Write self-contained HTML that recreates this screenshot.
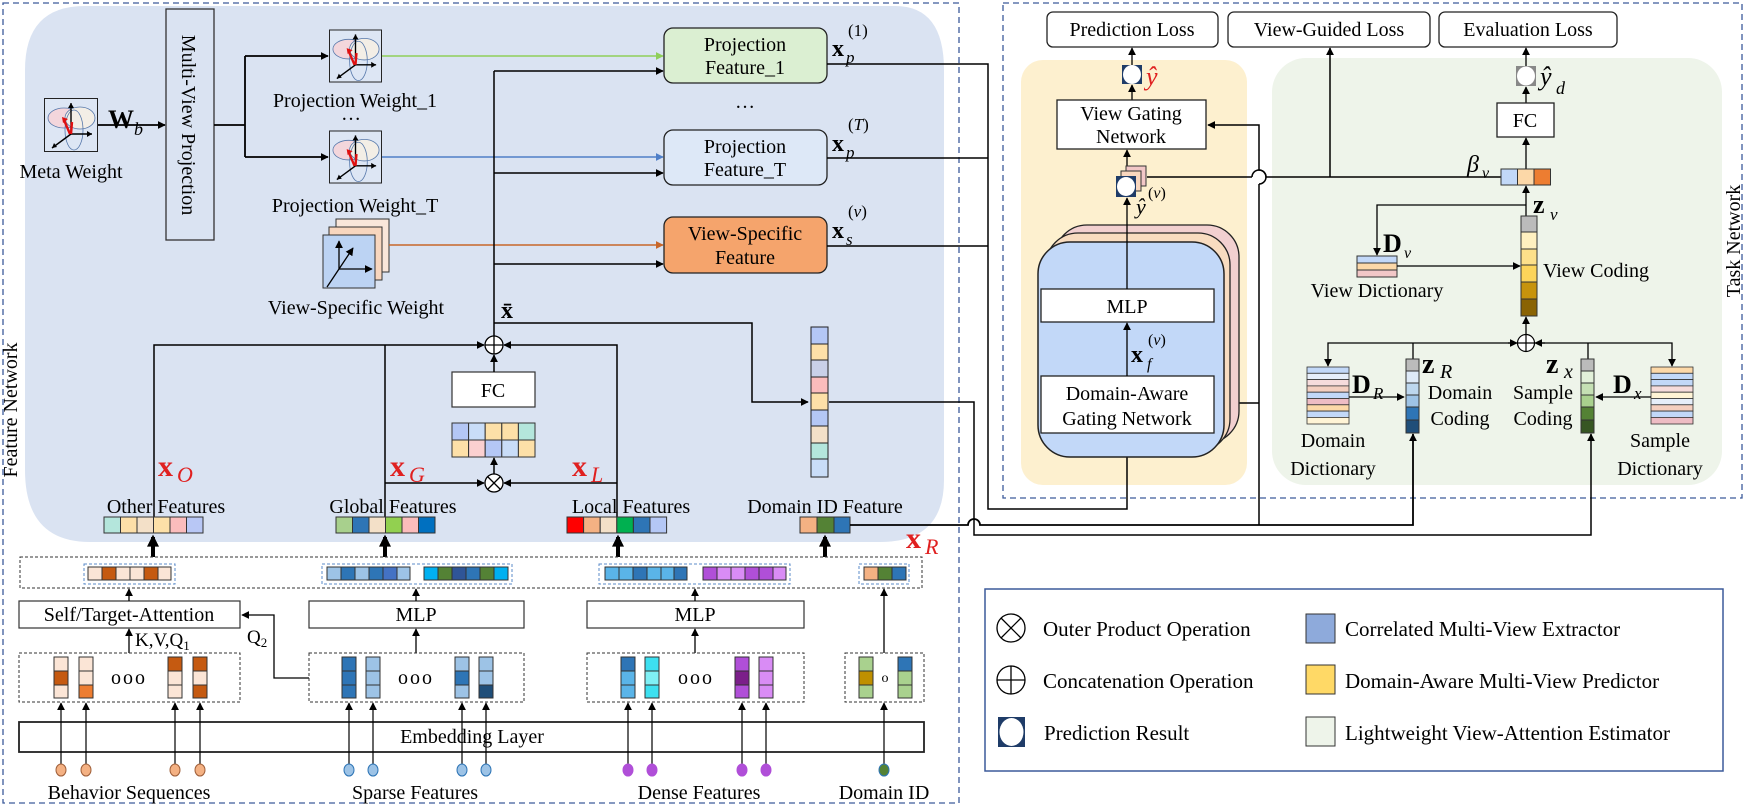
<!DOCTYPE html>
<html><head><meta charset="utf-8"><style>
html,body{margin:0;padding:0;background:#fff}
svg{display:block}
text{font-family:"Liberation Serif",serif;fill:#000}
.l{font-size:20px}
.m{font-size:22px}
.b{font-weight:bold}
.i{font-style:italic}
</style></head><body>
<svg width="1746" height="808" viewBox="0 0 1746 808" xmlns="http://www.w3.org/2000/svg">
<defs>
<marker id="a" viewBox="0 0 10 10" refX="9" refY="5" markerWidth="8" markerHeight="8" orient="auto-start-reverse" markerUnits="userSpaceOnUse"><path d="M0,0 L10,5 L0,10 z" fill="#000"/></marker>
<marker id="ag" viewBox="0 0 10 10" refX="9" refY="5" markerWidth="8" markerHeight="8" orient="auto" markerUnits="userSpaceOnUse"><path d="M0,0 L10,5 L0,10 z" fill="#8fcf5a"/></marker>
<marker id="ab" viewBox="0 0 10 10" refX="9" refY="5" markerWidth="8" markerHeight="8" orient="auto" markerUnits="userSpaceOnUse"><path d="M0,0 L10,5 L0,10 z" fill="#4f7fc8"/></marker>
<marker id="ao" viewBox="0 0 10 10" refX="9" refY="5" markerWidth="8" markerHeight="8" orient="auto" markerUnits="userSpaceOnUse"><path d="M0,0 L10,5 L0,10 z" fill="#c8672a"/></marker>
<marker id="at" viewBox="0 0 10 10" refX="8" refY="5" markerWidth="16" markerHeight="12" orient="auto" markerUnits="userSpaceOnUse"><path d="M0,0 L10,5 L0,10 z" fill="#000"/></marker>
<symbol id="wi" viewBox="0 0 54 54">
<rect x="0.5" y="0.5" width="53" height="53" fill="#dde6f4" stroke="#222"/>
<ellipse cx="20" cy="20" rx="16" ry="10" fill="#f3d6dc" stroke="#5577aa" stroke-width="0.8"/>
<ellipse cx="36" cy="20" rx="15" ry="11" fill="#f3eee6" stroke="#5577aa" stroke-width="0.8"/>
<ellipse cx="30" cy="32" rx="9" ry="20" fill="none" stroke="#5577aa" stroke-width="0.8"/>
<line x1="27" y1="36" x2="27" y2="5" stroke="#000" stroke-width="1.4"/>
<line x1="27" y1="36" x2="48" y2="36" stroke="#000" stroke-width="1.4"/>
<line x1="27" y1="36" x2="8" y2="50" stroke="#000" stroke-width="1.4"/>
<path d="M27,5 l-3,5 h6z M48,36 l-5,-3 v6z M8,50 l2,-5 l3,4z" fill="#000"/>
<line x1="26" y1="36" x2="20" y2="22" stroke="#e01010" stroke-width="2.4"/>
<line x1="27" y1="36" x2="28" y2="24" stroke="#e01010" stroke-width="2.4"/>
<path d="M18,19 l6,2 l-5,4z" fill="#e01010"/>
</symbol>
</defs>

<!-- Feature network background -->
<path d="M85,6 H895 Q944,6 944,70 V480 Q944,542 880,542 H90 Q25,542 25,470 V70 Q25,6 85,6 Z" fill="#dae3f2"/>
<!-- dashed boxes -->
<path d="M3,3 H959 V803 H3 Z" fill="none" stroke="#3c5a9a" stroke-width="1.3" stroke-dasharray="6,4"/>
<rect x="1003" y="3" width="739" height="495" fill="none" stroke="#3c5a9a" stroke-width="1.3" stroke-dasharray="6,4"/>
<text class="l" transform="translate(17,410) rotate(-90)" text-anchor="middle">Feature Network</text>
<text class="l" transform="translate(1740,241) rotate(-90)" text-anchor="middle">Task Network</text>

<!-- Task regions -->
<rect x="1021" y="60" width="226" height="425" rx="22" fill="#fdf0cf"/>
<rect x="1272" y="58" width="450" height="427" rx="34" fill="#eef4ea"/>

<!-- Meta weight -->
<use href="#wi" x="44" y="98" width="54" height="54"/>
<text class="l" x="71" y="178" text-anchor="middle">Meta Weight</text>
<text x="108" y="128" font-size="26" class="b">W</text><text x="134" y="135" font-size="18" class="i">b</text>
<line x1="98" y1="125" x2="165" y2="125" stroke="#000" stroke-width="1.8" marker-end="url(#a)"/>
<rect x="166" y="9" width="48" height="231" fill="#dae3f2" stroke="#333" stroke-width="1.3"/>
<text class="l" transform="translate(182,125) rotate(90)" text-anchor="middle">Multi-View Projection</text>
<polyline points="214,125 245,125" fill="none" stroke="#000" stroke-width="1.8"/>
<line x1="245" y1="56" x2="245" y2="157" stroke="#000" stroke-width="1.8"/>
<line x1="245" y1="56" x2="328" y2="56" stroke="#000" stroke-width="1.8" marker-end="url(#a)"/>
<line x1="245" y1="157" x2="328" y2="157" stroke="#000" stroke-width="1.8" marker-end="url(#a)"/>
<use href="#wi" x="329" y="29" width="53" height="54"/>
<use href="#wi" x="329" y="130" width="53" height="54"/>
<text class="l" x="355" y="107" text-anchor="middle">Projection Weight_1</text>
<text class="l" x="351" y="120" text-anchor="middle">…</text>
<text class="l" x="355" y="212" text-anchor="middle">Projection Weight_T</text>
<!-- view specific icon -->
<rect x="336" y="219" width="53" height="53" fill="#f9e6da" stroke="#333"/>
<rect x="329" y="227" width="53" height="53" fill="#f8d6be" stroke="#333"/>
<rect x="323" y="235" width="52" height="53" fill="#bcd3f3" stroke="#333"/>
<line x1="339" y1="269" x2="339" y2="241" stroke="#000" stroke-width="1.3" marker-end="url(#a)"/>
<line x1="339" y1="269" x2="372" y2="269" stroke="#000" stroke-width="1.3" marker-end="url(#a)"/>
<line x1="339" y1="269" x2="327" y2="287" stroke="#000" stroke-width="1.3"/>
<line x1="339" y1="269" x2="353" y2="248" stroke="#000" stroke-width="1.3" marker-end="url(#a)"/>
<text class="l" x="356" y="314" text-anchor="middle">View-Specific Weight</text>

<!-- colored arrows -->
<line x1="382" y1="56" x2="663" y2="56" stroke="#8fcf5a" stroke-width="1.5" marker-end="url(#ag)"/>
<line x1="382" y1="157" x2="663" y2="157" stroke="#4f7fc8" stroke-width="1.5" marker-end="url(#ab)"/>
<line x1="389" y1="245" x2="663" y2="245" stroke="#c8672a" stroke-width="1.5" marker-end="url(#ao)"/>

<!-- feature boxes -->
<rect x="664" y="28" width="163" height="55" rx="9" fill="#dbefd2" stroke="#222" stroke-width="1.3"/>
<text class="l" x="745" y="51" text-anchor="middle">Projection</text><text class="l" x="745" y="74" text-anchor="middle">Feature_1</text>
<text class="l" x="745" y="108" text-anchor="middle">…</text>
<rect x="664" y="130" width="163" height="55" rx="9" fill="#dde8f7" stroke="#222" stroke-width="1.3"/>
<text class="l" x="745" y="153" text-anchor="middle">Projection</text><text class="l" x="745" y="176" text-anchor="middle">Feature_T</text>
<rect x="664" y="217" width="163" height="56" rx="9" fill="#f5a46c" stroke="#222" stroke-width="1.3"/>
<text class="l" x="745" y="240" text-anchor="middle">View-Specific</text><text class="l" x="745" y="264" text-anchor="middle">Feature</text>
<!-- labels x_p -->
<text x="832" y="56" font-size="24" class="b">x</text><text x="846" y="63" font-size="17" class="i">p</text><text x="848" y="36" font-size="17">(1)</text>
<text x="832" y="151" font-size="24" class="b">x</text><text x="846" y="158" font-size="17" class="i">p</text><text x="848" y="130" font-size="17">(<tspan class="i">T</tspan>)</text>
<text x="832" y="238" font-size="24" class="b">x</text><text x="846" y="245" font-size="17" class="i">s</text><text x="848" y="217" font-size="17">(<tspan class="i">v</tspan>)</text>

<!-- x bar line -->
<line x1="494" y1="71" x2="494" y2="336" stroke="#000" stroke-width="1.5"/>
<line x1="494" y1="71" x2="663" y2="71" stroke="#000" stroke-width="1.5" marker-end="url(#a)"/>
<line x1="494" y1="173" x2="663" y2="173" stroke="#000" stroke-width="1.5" marker-end="url(#a)"/>
<line x1="494" y1="264" x2="663" y2="264" stroke="#000" stroke-width="1.5" marker-end="url(#a)"/>
<text x="501" y="318" font-size="24" class="b">x̄</text>
<polyline points="494,323 752,323 752,402 808,402" fill="none" stroke="#000" stroke-width="1.5" marker-end="url(#a)"/>
<!-- domain column -->
<g stroke="#222" stroke-width="1">
<rect x="811" y="327" width="17" height="17" fill="#b4c7f5"/><rect x="811" y="344" width="17" height="16" fill="#fde0a8"/><rect x="811" y="360" width="17" height="17" fill="#c9d0e8"/><rect x="811" y="377" width="17" height="16" fill="#fbbcbc"/><rect x="811" y="393" width="17" height="17" fill="#fde0a8"/><rect x="811" y="410" width="17" height="16" fill="#b4c7f5"/><rect x="811" y="426" width="17" height="17" fill="#f3e0c8"/><rect x="811" y="443" width="17" height="16" fill="#b4e6dc"/><rect x="811" y="459" width="17" height="18" fill="#c9ddf8"/>
</g>

<!-- concat -->
<circle cx="494" cy="345" r="9" fill="#fff" stroke="#000" stroke-width="1.3"/>
<path d="M485,345 H503 M494,336 V354" stroke="#000" stroke-width="1.3"/>
<polyline points="154,517 154,345 484,345" fill="none" stroke="#000" stroke-width="1.5" marker-end="url(#a)"/>
<line x1="385" y1="345" x2="385" y2="517" stroke="#000" stroke-width="1.5"/>
<polyline points="617,517 617,345 504,345" fill="none" stroke="#000" stroke-width="1.5" marker-end="url(#a)"/>
<rect x="452" y="372" width="83" height="35" fill="#fff" stroke="#333" stroke-width="1.2"/>
<text class="l" x="493" y="397" text-anchor="middle">FC</text>
<line x1="494" y1="372" x2="494" y2="355" stroke="#000" stroke-width="1.5" marker-end="url(#a)"/>
<g stroke="#333" stroke-width="1">
<rect x="452" y="423" width="16.6" height="17" fill="#b4c7f5"/><rect x="468.6" y="423" width="16.6" height="17" fill="#c9ddf8"/><rect x="485.2" y="423" width="16.6" height="17" fill="#fde0a8"/><rect x="501.8" y="423" width="16.6" height="17" fill="#fde0a8"/><rect x="518.4" y="423" width="16.6" height="17" fill="#b4e6dc"/>
<rect x="452" y="440" width="16.6" height="17" fill="#fde0a8"/><rect x="468.6" y="440" width="16.6" height="17" fill="#fbd0d0"/><rect x="485.2" y="440" width="16.6" height="17" fill="#b4c7f5"/><rect x="501.8" y="440" width="16.6" height="17" fill="#c9ddf8"/><rect x="518.4" y="440" width="16.6" height="17" fill="#fde0a8"/>
</g>
<line x1="494" y1="474" x2="494" y2="458" stroke="#000" stroke-width="1.5" marker-end="url(#a)"/>
<circle cx="494" cy="483" r="9" fill="#fff" stroke="#000" stroke-width="1.3"/>
<path d="M488,477 L500,489 M500,477 L488,489" stroke="#000" stroke-width="1.3"/>
<line x1="385" y1="483" x2="484" y2="483" stroke="#000" stroke-width="1.5" marker-end="url(#a)"/>
<line x1="617" y1="483" x2="504" y2="483" stroke="#000" stroke-width="1.5" marker-end="url(#a)"/>
<text x="158" y="476" font-size="30" class="b" fill="#e02020" style="fill:#e02020">x</text><text x="177" y="482" font-size="22" class="i" style="fill:#e02020">O</text>
<text x="390" y="476" font-size="30" class="b" style="fill:#e02020">x</text><text x="409" y="482" font-size="22" class="i" style="fill:#e02020">G</text>
<text x="572" y="476" font-size="30" class="b" style="fill:#e02020">x</text><text x="591" y="482" font-size="22" class="i" style="fill:#e02020">L</text>

<!-- feature bars -->
<text class="l" x="166" y="513" text-anchor="middle">Other Features</text>
<text class="l" x="393" y="513" text-anchor="middle">Global Features</text>
<text class="l" x="631" y="513" text-anchor="middle">Local Features</text>
<text class="l" x="825" y="513" text-anchor="middle">Domain ID Feature</text>
<g stroke="#333" stroke-width="1">
<rect x="104" y="517" width="16.5" height="16" fill="#b4e6dc"/><rect x="120.5" y="517" width="16.5" height="16" fill="#fddfa8"/><rect x="137" y="517" width="16.5" height="16" fill="#f3e0c8"/><rect x="153.5" y="517" width="16.5" height="16" fill="#fde0a8"/><rect x="170" y="517" width="16.5" height="16" fill="#fbbcbc"/><rect x="186.5" y="517" width="16.5" height="16" fill="#b8c7f5"/>
<rect x="336" y="517" width="16.5" height="16" fill="#a8d08d"/><rect x="352.5" y="517" width="16.5" height="16" fill="#2e75b6"/><rect x="369" y="517" width="16.5" height="16" fill="#f3e0c8"/><rect x="385.5" y="517" width="16.5" height="16" fill="#92d050"/><rect x="402" y="517" width="16.5" height="16" fill="#fbbcbc"/><rect x="418.5" y="517" width="16.5" height="16" fill="#0070c0"/>
<rect x="567" y="517" width="16.6" height="16" fill="#ff0000"/><rect x="583.6" y="517" width="16.6" height="16" fill="#f4b183"/><rect x="600.2" y="517" width="16.6" height="16" fill="#f3e0c8"/><rect x="616.8" y="517" width="16.6" height="16" fill="#00b050"/><rect x="633.4" y="517" width="16.6" height="16" fill="#2e75b6"/><rect x="650" y="517" width="16.6" height="16" fill="#b4c7f5"/>
<rect x="800" y="517" width="17" height="16" fill="#f4b183"/><rect x="817" y="517" width="17" height="16" fill="#548235"/><rect x="834" y="517" width="16" height="16" fill="#2e75b6"/>
</g>
<!-- thick arrows -->
<g stroke="#000" stroke-width="4">
<line x1="153" y1="557" x2="153" y2="537" marker-end="url(#at)"/>
<line x1="385" y1="557" x2="385" y2="537" marker-end="url(#at)"/>
<line x1="618" y1="557" x2="618" y2="537" marker-end="url(#at)"/>
<line x1="825" y1="557" x2="825" y2="537" marker-end="url(#at)"/>
</g>

<!-- domain ID & bus lines -->
<polyline points="827,64 988,64 988,509 1127,509 1127,434" fill="none" stroke="#000" stroke-width="1.5" marker-end="url(#a)"/>
<line x1="827" y1="158" x2="988" y2="158" stroke="#000" stroke-width="1.5"/>
<line x1="827" y1="246" x2="988" y2="246" stroke="#000" stroke-width="1.5"/>
<polyline points="829,402 974,402 974,535 1591,535 1591,434" fill="none" stroke="#000" stroke-width="1.5" marker-end="url(#a)"/>
<path d="M850,525 H968 A6,6 0 0 1 980,525 H1413 V434" fill="none" stroke="#000" stroke-width="1.8" marker-end="url(#a)"/>
<polyline points="1259,525 1259,184" fill="none" stroke="#000" stroke-width="1.5"/>
<path d="M1259,184 A7,7 0 0 0 1259,170 V125 H1208" fill="none" stroke="#000" stroke-width="1.5" marker-end="url(#a)"/>
<line x1="1259" y1="403" x2="1216" y2="403" stroke="#000" stroke-width="1.5" marker-end="url(#a)"/>
<text x="906" y="548" font-size="30" class="b" style="fill:#e02020">x</text><text x="925" y="554" font-size="22" class="i" style="fill:#e02020">R</text>

<!-- dashed feature row -->
<rect x="20" y="557" width="902" height="31" fill="none" stroke="#333" stroke-width="1" stroke-dasharray="3,2"/>
<g fill="none" stroke="#5b8bc9" stroke-width="1" stroke-dasharray="3,2">
<rect x="84" y="564" width="91" height="20"/><rect x="322" y="564" width="190" height="20"/><rect x="599" y="564" width="191" height="20"/><rect x="859" y="564" width="50" height="20"/>
</g>
<g stroke="#333" stroke-width="1">
<rect x="88" y="567" width="14" height="13" fill="#fbe5d6"/><rect x="102" y="567" width="14" height="13" fill="#c55a11"/><rect x="116" y="567" width="14" height="13" fill="#fbe5d6"/><rect x="130" y="567" width="14" height="13" fill="#fbe5d6"/><rect x="144" y="567" width="14" height="13" fill="#c55a11"/><rect x="158" y="567" width="13" height="13" fill="#fbe5d6"/>
<rect x="327" y="567" width="14" height="13" fill="#9dc3e6"/><rect x="341" y="567" width="14" height="13" fill="#2e75b6"/><rect x="355" y="567" width="14" height="13" fill="#9dc3e6"/><rect x="369" y="567" width="14" height="13" fill="#2e75b6"/><rect x="383" y="567" width="14" height="13" fill="#4472c4"/><rect x="397" y="567" width="13" height="13" fill="#9dc3e6"/>
<rect x="424" y="567" width="14" height="13" fill="#00b0f0"/><rect x="438" y="567" width="14" height="13" fill="#548235"/><rect x="452" y="567" width="14" height="13" fill="#2f5597"/><rect x="466" y="567" width="14" height="13" fill="#2e75b6"/><rect x="480" y="567" width="14" height="13" fill="#548235"/><rect x="494" y="567" width="14" height="13" fill="#00b0f0"/>
<rect x="605" y="567" width="14" height="13" fill="#5ab4e8"/><rect x="619" y="567" width="14" height="13" fill="#5ab4e8"/><rect x="633" y="567" width="14" height="13" fill="#2e75b6"/><rect x="647" y="567" width="14" height="13" fill="#5ab4e8"/><rect x="661" y="567" width="13" height="13" fill="#5ab4e8"/><rect x="674" y="567" width="13" height="13" fill="#2e75b6"/>
<rect x="703" y="567" width="14" height="13" fill="#b04fd8"/><rect x="717" y="567" width="14" height="13" fill="#d98cf5"/><rect x="731" y="567" width="14" height="13" fill="#d98cf5"/><rect x="745" y="567" width="14" height="13" fill="#b04fd8"/><rect x="759" y="567" width="14" height="13" fill="#b04fd8"/><rect x="773" y="567" width="13" height="13" fill="#d98cf5"/>
<rect x="864" y="567" width="14" height="13" fill="#f4b183"/><rect x="878" y="567" width="14" height="13" fill="#548235"/><rect x="892" y="567" width="14" height="13" fill="#2e75b6"/>
</g>

<!-- attention & MLP -->
<rect x="19" y="601" width="221" height="27" fill="#fff" stroke="#333" stroke-width="1.2"/>
<text class="l" x="129" y="621" text-anchor="middle">Self/Target-Attention</text>
<rect x="309" y="601" width="215" height="27" fill="#fff" stroke="#333" stroke-width="1.2"/>
<text class="l" x="416" y="621" text-anchor="middle">MLP</text>
<rect x="587" y="601" width="217" height="27" fill="#fff" stroke="#333" stroke-width="1.2"/>
<text class="l" x="695" y="621" text-anchor="middle">MLP</text>
<g stroke="#000" stroke-width="1.3">
<line x1="129" y1="601" x2="129" y2="589" marker-end="url(#a)"/>
<line x1="416" y1="601" x2="416" y2="589" marker-end="url(#a)"/>
<line x1="695" y1="601" x2="695" y2="589" marker-end="url(#a)"/>
<line x1="884" y1="653" x2="884" y2="589" marker-end="url(#a)"/>
<line x1="129" y1="653" x2="129" y2="629" marker-end="url(#a)"/>
<line x1="416" y1="653" x2="416" y2="629" marker-end="url(#a)"/>
<line x1="695" y1="653" x2="695" y2="629" marker-end="url(#a)"/>
</g>
<polyline points="309,678 274,678 274,615 242,615" fill="none" stroke="#000" stroke-width="1.3" marker-end="url(#a)"/>
<text x="135" y="646" font-size="19">K,V,Q<tspan font-size="13" dy="4">1</tspan></text>
<text x="247" y="643" font-size="19">Q<tspan font-size="13" dy="4">2</tspan></text>

<!-- embedding groups -->
<g fill="none" stroke="#333" stroke-width="1" stroke-dasharray="3,2">
<rect x="19" y="653" width="221" height="49"/><rect x="309" y="653" width="215" height="49"/><rect x="587" y="653" width="217" height="49"/><rect x="845" y="653" width="79" height="49"/>
</g>
<g stroke="#333" stroke-width="1">
<rect x="54" y="657" width="14" height="14" fill="#fbe5d6"/><rect x="54" y="671" width="14" height="14" fill="#c55a11"/><rect x="54" y="685" width="14" height="13" fill="#fbe5d6"/>
<rect x="79" y="657" width="14" height="14" fill="#fbe5d6"/><rect x="79" y="671" width="14" height="14" fill="#fbe5d6"/><rect x="79" y="685" width="14" height="13" fill="#ed7d31"/>
<rect x="168" y="657" width="14" height="14" fill="#c55a11"/><rect x="168" y="671" width="14" height="14" fill="#fbe5d6"/><rect x="168" y="685" width="14" height="13" fill="#fbe5d6"/>
<rect x="193" y="657" width="14" height="14" fill="#c55a11"/><rect x="193" y="671" width="14" height="14" fill="#fbe5d6"/><rect x="193" y="685" width="14" height="13" fill="#c55a11"/>
<rect x="342" y="657" width="14" height="14" fill="#2e75b6"/><rect x="342" y="671" width="14" height="14" fill="#2e75b6"/><rect x="342" y="685" width="14" height="13" fill="#2e75b6"/>
<rect x="366" y="657" width="14" height="14" fill="#9dc3e6"/><rect x="366" y="671" width="14" height="14" fill="#9dc3e6"/><rect x="366" y="685" width="14" height="13" fill="#9dc3e6"/>
<rect x="455" y="657" width="14" height="14" fill="#9dc3e6"/><rect x="455" y="671" width="14" height="14" fill="#2e75b6"/><rect x="455" y="685" width="14" height="13" fill="#9dc3e6"/>
<rect x="479" y="657" width="14" height="14" fill="#9dc3e6"/><rect x="479" y="671" width="14" height="14" fill="#9dc3e6"/><rect x="479" y="685" width="14" height="13" fill="#1f4e79"/>
<rect x="621" y="657" width="14" height="14" fill="#2e75b6"/><rect x="621" y="671" width="14" height="14" fill="#5ab4e8"/><rect x="621" y="685" width="14" height="13" fill="#5ab4e8"/>
<rect x="645" y="657" width="14" height="14" fill="#3de0f0"/><rect x="645" y="671" width="14" height="14" fill="#7ff0f5"/><rect x="645" y="685" width="14" height="13" fill="#3de0f0"/>
<rect x="735" y="657" width="14" height="14" fill="#b04fd8"/><rect x="735" y="671" width="14" height="14" fill="#7b1f8a"/><rect x="735" y="685" width="14" height="13" fill="#b04fd8"/>
<rect x="759" y="657" width="14" height="14" fill="#d98cf5"/><rect x="759" y="671" width="14" height="14" fill="#d98cf5"/><rect x="759" y="685" width="14" height="13" fill="#d98cf5"/>
<rect x="859" y="657" width="14" height="14" fill="#a9d18e"/><rect x="859" y="671" width="14" height="14" fill="#bf9000"/><rect x="859" y="685" width="14" height="13" fill="#a9d18e"/>
<rect x="898" y="657" width="14" height="14" fill="#2e75b6"/><rect x="898" y="671" width="14" height="14" fill="#a9d18e"/><rect x="898" y="685" width="14" height="13" fill="#a9d18e"/>
</g>
<text x="129" y="684" font-size="20" text-anchor="middle" letter-spacing="2">ooo</text>
<text x="416" y="684" font-size="20" text-anchor="middle" letter-spacing="2">ooo</text>
<text x="696" y="684" font-size="20" text-anchor="middle" letter-spacing="2">ooo</text>
<text x="885" y="682" font-size="14" text-anchor="middle">o</text>

<!-- embedding layer -->
<rect x="19" y="722" width="905" height="30" fill="#fff" stroke="#222" stroke-width="1.8"/>
<text class="l" x="472" y="743" text-anchor="middle">Embedding Layer</text>
<g stroke="#000" stroke-width="1.2">
<line x1="61" y1="765" x2="61" y2="703" marker-end="url(#a)"/><line x1="86" y1="765" x2="86" y2="703" marker-end="url(#a)"/><line x1="175" y1="765" x2="175" y2="703" marker-end="url(#a)"/><line x1="200" y1="765" x2="200" y2="703" marker-end="url(#a)"/>
<line x1="349" y1="765" x2="349" y2="703" marker-end="url(#a)"/><line x1="373" y1="765" x2="373" y2="703" marker-end="url(#a)"/><line x1="462" y1="765" x2="462" y2="703" marker-end="url(#a)"/><line x1="486" y1="765" x2="486" y2="703" marker-end="url(#a)"/>
<line x1="628" y1="765" x2="628" y2="703" marker-end="url(#a)"/><line x1="652" y1="765" x2="652" y2="703" marker-end="url(#a)"/><line x1="742" y1="765" x2="742" y2="703" marker-end="url(#a)"/><line x1="766" y1="765" x2="766" y2="703" marker-end="url(#a)"/>
<line x1="884" y1="765" x2="884" y2="703" marker-end="url(#a)"/>
</g>
<g stroke-width="1">
<ellipse cx="61" cy="770" rx="5" ry="6" fill="#f4b183" stroke="#a0603a"/><ellipse cx="86" cy="770" rx="5" ry="6" fill="#f4b183" stroke="#a0603a"/><ellipse cx="175" cy="770" rx="5" ry="6" fill="#f4b183" stroke="#a0603a"/><ellipse cx="200" cy="770" rx="5" ry="6" fill="#f4b183" stroke="#a0603a"/>
<ellipse cx="349" cy="770" rx="5" ry="6" fill="#9dc3e6" stroke="#2e75b6"/><ellipse cx="373" cy="770" rx="5" ry="6" fill="#9dc3e6" stroke="#2e75b6"/><ellipse cx="462" cy="770" rx="5" ry="6" fill="#9dc3e6" stroke="#2e75b6"/><ellipse cx="486" cy="770" rx="5" ry="6" fill="#9dc3e6" stroke="#2e75b6"/>
<ellipse cx="628" cy="770" rx="5" ry="6" fill="#b04fd8" stroke="#b04fd8"/><ellipse cx="652" cy="770" rx="5" ry="6" fill="#b04fd8" stroke="#b04fd8"/><ellipse cx="742" cy="770" rx="5" ry="6" fill="#b04fd8" stroke="#b04fd8"/><ellipse cx="766" cy="770" rx="5" ry="6" fill="#b04fd8" stroke="#b04fd8"/>
<ellipse cx="884" cy="770" rx="5" ry="6" fill="#548235" stroke="#2e75b6"/>
</g>
<text class="l" x="129" y="799" text-anchor="middle">Behavior Sequences</text>
<text class="l" x="415" y="799" text-anchor="middle">Sparse Features</text>
<text class="l" x="699" y="799" text-anchor="middle">Dense Features</text>
<text class="l" x="884" y="799" text-anchor="middle">Domain ID</text>

<!-- Losses -->
<rect x="1047" y="12" width="171" height="35" rx="6" fill="#fff" stroke="#222" stroke-width="1.3"/>
<text class="l" x="1132" y="36" text-anchor="middle">Prediction Loss</text>
<rect x="1228" y="12" width="202" height="35" rx="6" fill="#fff" stroke="#222" stroke-width="1.3"/>
<text class="l" x="1329" y="36" text-anchor="middle">View-Guided Loss</text>
<rect x="1439" y="12" width="178" height="35" rx="6" fill="#fff" stroke="#222" stroke-width="1.3"/>
<text class="l" x="1528" y="36" text-anchor="middle">Evaluation Loss</text>

<!-- yellow region content -->
<rect x="1122" y="65" width="20" height="19" fill="#1f3c68"/><ellipse cx="1132" cy="74.5" rx="9" ry="9.5" fill="#fff"/>
<text x="1146" y="85" font-size="26" class="i" style="fill:#e02020">ŷ</text>
<line x1="1132" y1="65" x2="1132" y2="48" stroke="#000" stroke-width="1.3" marker-end="url(#a)"/>
<line x1="1132" y1="100" x2="1132" y2="85" stroke="#000" stroke-width="1.3" marker-end="url(#a)"/>
<rect x="1057" y="100" width="149" height="49" fill="#fff" stroke="#222" stroke-width="1.3"/>
<text class="l" x="1131" y="120" text-anchor="middle">View Gating</text><text class="l" x="1131" y="143" text-anchor="middle">Network</text>
<line x1="1127" y1="166" x2="1127" y2="150" stroke="#000" stroke-width="1.3" marker-end="url(#a)"/>
<rect x="1126" y="166" width="20" height="20" fill="#f2c7c7" stroke="#333"/>
<rect x="1121" y="171" width="20" height="20" fill="#f8d6be" stroke="#333"/>
<rect x="1116" y="176" width="20" height="21" fill="#1f3c68"/><ellipse cx="1126" cy="186.5" rx="9" ry="9.5" fill="#fff"/>
<text x="1136" y="214" font-size="22" class="i">ŷ</text><text x="1148" y="198" font-size="16">(<tspan class="i">v</tspan>)</text>
<line x1="1147" y1="177" x2="1252" y2="177" stroke="#000" stroke-width="1.5"/>
<path d="M1252,177 A7,7 0 0 1 1266,177 H1501" fill="none" stroke="#000" stroke-width="1.5"/>
<line x1="1330" y1="177" x2="1330" y2="48" stroke="#000" stroke-width="1.5" marker-end="url(#a)"/>
<!-- cards -->
<rect x="1055" y="225" width="184" height="218" rx="32" fill="#f2d0d0" stroke="#222" stroke-width="1.3"/>
<rect x="1046" y="233" width="184" height="218" rx="32" fill="#f8dcc0" stroke="#222" stroke-width="1.3"/>
<rect x="1038" y="242" width="186" height="215" rx="32" fill="#c2d8f8" stroke="#222" stroke-width="1.5"/>
<rect x="1041" y="289" width="173" height="33" fill="#fff" stroke="#222" stroke-width="1.3"/>
<text class="l" x="1127" y="313" text-anchor="middle">MLP</text>
<rect x="1041" y="376" width="173" height="57" fill="#fff" stroke="#222" stroke-width="1.3"/>
<text class="l" x="1127" y="400" text-anchor="middle">Domain-Aware</text><text class="l" x="1127" y="425" text-anchor="middle">Gating Network</text>
<line x1="1127" y1="376" x2="1127" y2="323" stroke="#000" stroke-width="1.3" marker-end="url(#a)"/>
<line x1="1127" y1="289" x2="1127" y2="198" stroke="#000" stroke-width="1.3" marker-end="url(#a)"/>
<text x="1131" y="362" font-size="24" class="b">x</text><text x="1147" y="369" font-size="16" class="i">f</text><text x="1148" y="345" font-size="16">(<tspan class="i">v</tspan>)</text>

<!-- green region content -->
<rect x="1516" y="66" width="20" height="20" fill="#888"/><ellipse cx="1526" cy="76" rx="9" ry="9.5" fill="#fff"/>
<text x="1540" y="85" font-size="26" class="i">ŷ</text><text x="1556" y="94" font-size="18" class="i">d</text>
<line x1="1526" y1="66" x2="1526" y2="48" stroke="#000" stroke-width="1.3" marker-end="url(#a)"/>
<line x1="1526" y1="103" x2="1526" y2="87" stroke="#000" stroke-width="1.3" marker-end="url(#a)"/>
<rect x="1497" y="103" width="57" height="34" fill="#fff" stroke="#222" stroke-width="1.3"/>
<text class="l" x="1525" y="127" text-anchor="middle">FC</text>
<line x1="1526" y1="169" x2="1526" y2="138" stroke="#000" stroke-width="1.3" marker-end="url(#a)"/>
<text x="1467" y="172" font-size="24" class="i">β</text><text x="1482" y="178" font-size="16" class="i">v</text>
<g stroke="#333" stroke-width="1">
<rect x="1501" y="169" width="16.5" height="16" fill="#c2d8f8"/><rect x="1517.5" y="169" width="16.5" height="16" fill="#fcd8a8"/><rect x="1534" y="169" width="16.5" height="16" fill="#ed7d31"/>
</g>
<line x1="1526" y1="216" x2="1526" y2="186" stroke="#000" stroke-width="1.3" marker-end="url(#a)"/>
<text x="1533" y="213" font-size="26" class="b">z</text><text x="1550" y="220" font-size="17" class="i">v</text>
<polyline points="1526,205 1377,205 1377,255" fill="none" stroke="#000" stroke-width="1.3" marker-end="url(#a)"/>
<text x="1383" y="252" font-size="26" class="b">D</text><text x="1404" y="258" font-size="16" class="i">v</text>
<g stroke="#333" stroke-width="1">
<rect x="1357" y="256" width="40" height="7" fill="#c2d8f8"/><rect x="1357" y="263" width="40" height="7" fill="#fcd8a8"/><rect x="1357" y="270" width="40" height="7" fill="#f2c7c7"/>
</g>
<line x1="1397" y1="266" x2="1520" y2="266" stroke="#000" stroke-width="1.3" marker-end="url(#a)"/>
<text class="l" x="1377" y="297" text-anchor="middle">View Dictionary</text>
<g stroke="#333" stroke-width="1">
<rect x="1521" y="216" width="16" height="16" fill="#bbb"/><rect x="1521" y="232" width="16" height="17" fill="#fff0c0"/><rect x="1521" y="249" width="16" height="16" fill="#fde08a"/><rect x="1521" y="265" width="16" height="17" fill="#fcd45a"/><rect x="1521" y="282" width="16" height="17" fill="#c7930c"/><rect x="1521" y="299" width="16" height="17" fill="#8a6303"/>
</g>
<text class="l" x="1543" y="277">View Coding</text>
<line x1="1526" y1="334" x2="1526" y2="317" stroke="#000" stroke-width="1.3" marker-end="url(#a)"/>
<circle cx="1526" cy="343" r="8.5" fill="#fff" stroke="#000" stroke-width="1.2"/>
<path d="M1517.5,343 H1534.5 M1526,334.5 V351.5" stroke="#000" stroke-width="1.2"/>
<polyline points="1516,343 1328,343 1328,366" fill="none" stroke="#000" stroke-width="1.3" marker-end="url(#a)"/>
<polyline points="1536,343 1672,343 1672,366" fill="none" stroke="#000" stroke-width="1.3" marker-end="url(#a)"/>
<polyline points="1413,343 1413,359" fill="none" stroke="#000" stroke-width="1.3"/>
<line x1="1508" y1="343" x2="1517" y2="343" stroke="#000" stroke-width="1.3" marker-end="url(#a)"/>
<line x1="1545" y1="343" x2="1535" y2="343" stroke="#000" stroke-width="1.3" marker-end="url(#a)"/>
<polyline points="1588,343 1588,359" fill="none" stroke="#000" stroke-width="1.3"/>
<!-- domain dict -->
<g stroke="#333" stroke-width="0.8">
<rect x="1307" y="367" width="42" height="6.3" fill="#c2d8f8"/><rect x="1307" y="373.3" width="42" height="6.3" fill="#e6eefa"/><rect x="1307" y="379.6" width="42" height="6.3" fill="#f6dcdc"/><rect x="1307" y="385.9" width="42" height="6.3" fill="#f4cfc0"/><rect x="1307" y="392.2" width="42" height="6.3" fill="#c2d8f8"/><rect x="1307" y="398.5" width="42" height="6.3" fill="#eebcc4"/><rect x="1307" y="404.8" width="42" height="6.3" fill="#fcd8a8"/><rect x="1307" y="411.1" width="42" height="6.3" fill="#c2d8f8"/><rect x="1307" y="417.4" width="42" height="6.6" fill="#fff4d6"/>
<rect x="1651" y="367" width="42" height="6.3" fill="#fcd8a8"/><rect x="1651" y="373.3" width="42" height="6.3" fill="#c2d8f8"/><rect x="1651" y="379.6" width="42" height="6.3" fill="#c2d8f8"/><rect x="1651" y="385.9" width="42" height="6.3" fill="#f6dcdc"/><rect x="1651" y="392.2" width="42" height="6.3" fill="#fff4d6"/><rect x="1651" y="398.5" width="42" height="6.3" fill="#e6eefa"/><rect x="1651" y="404.8" width="42" height="6.3" fill="#f4cfc0"/><rect x="1651" y="411.1" width="42" height="6.3" fill="#c2d8f8"/><rect x="1651" y="417.4" width="42" height="6.6" fill="#eebcc4"/>
</g>
<g stroke="#333" stroke-width="1">
<rect x="1406" y="359" width="13" height="12" fill="#bbb"/><rect x="1406" y="371" width="13" height="12" fill="#deeaf7"/><rect x="1406" y="383" width="13" height="12" fill="#bdd7ee"/><rect x="1406" y="395" width="13" height="12" fill="#9dc3e6"/><rect x="1406" y="407" width="13" height="13" fill="#2e75b6"/><rect x="1406" y="420" width="13" height="13" fill="#1f4e79"/>
<rect x="1581" y="359" width="13" height="12" fill="#bbb"/><rect x="1581" y="371" width="13" height="12" fill="#e2f0d9"/><rect x="1581" y="383" width="13" height="12" fill="#c5e0b4"/><rect x="1581" y="395" width="13" height="12" fill="#a9d18e"/><rect x="1581" y="407" width="13" height="13" fill="#548235"/><rect x="1581" y="420" width="13" height="13" fill="#375623"/>
</g>
<line x1="1349" y1="397" x2="1404" y2="397" stroke="#000" stroke-width="1.3" marker-end="url(#a)"/>
<line x1="1651" y1="397" x2="1596" y2="397" stroke="#000" stroke-width="1.3" marker-end="url(#a)"/>
<text x="1352" y="393" font-size="26" class="b">D</text><text x="1373" y="399" font-size="17" class="i">R</text>
<text x="1422" y="373" font-size="28" class="b">z</text><text x="1440" y="378" font-size="20" class="i">R</text>
<text x="1546" y="373" font-size="28" class="b">z</text><text x="1564" y="378" font-size="20" class="i">x</text>
<text x="1613" y="393" font-size="26" class="b">D</text><text x="1634" y="399" font-size="17" class="i">x</text>
<text class="l" x="1460" y="399" text-anchor="middle">Domain</text><text class="l" x="1460" y="425" text-anchor="middle">Coding</text>
<text class="l" x="1543" y="399" text-anchor="middle">Sample</text><text class="l" x="1543" y="425" text-anchor="middle">Coding</text>
<text class="l" x="1333" y="447" text-anchor="middle">Domain</text><text class="l" x="1333" y="475" text-anchor="middle">Dictionary</text>
<text class="l" x="1660" y="447" text-anchor="middle">Sample</text><text class="l" x="1660" y="475" text-anchor="middle">Dictionary</text>

<!-- Legend -->
<rect x="985" y="589" width="738" height="182" fill="#fff" stroke="#3c5a9a" stroke-width="1.5"/>
<circle cx="1011" cy="628" r="14" fill="#fff" stroke="#000" stroke-width="1.3"/>
<path d="M1001,618 L1021,638 M1021,618 L1001,638" stroke="#000" stroke-width="1.3"/>
<text x="1043" y="636" font-size="21">Outer Product Operation</text>
<circle cx="1011" cy="680" r="14" fill="#fff" stroke="#000" stroke-width="1.3"/>
<path d="M997,680 H1025 M1011,666 V694" stroke="#000" stroke-width="1.3"/>
<text x="1043" y="688" font-size="21">Concatenation Operation</text>
<rect x="998" y="717" width="27" height="30" fill="#1f3c68"/><ellipse cx="1011.5" cy="732" rx="12" ry="14" fill="#fff"/>
<text x="1044" y="740" font-size="21">Prediction Result</text>
<rect x="1306" y="614" width="29" height="29" fill="#8eaadb" stroke="#333" stroke-width="1"/>
<text x="1345" y="636" font-size="21">Correlated Multi-View Extractor</text>
<rect x="1306" y="665" width="29" height="29" fill="#ffd966" stroke="#333" stroke-width="1"/>
<text x="1345" y="688" font-size="21">Domain-Aware Multi-View Predictor</text>
<rect x="1306" y="717" width="29" height="29" fill="#eef4ea" stroke="#333" stroke-width="1"/>
<text x="1345" y="740" font-size="21">Lightweight View-Attention Estimator</text>
</svg>
</body></html>
